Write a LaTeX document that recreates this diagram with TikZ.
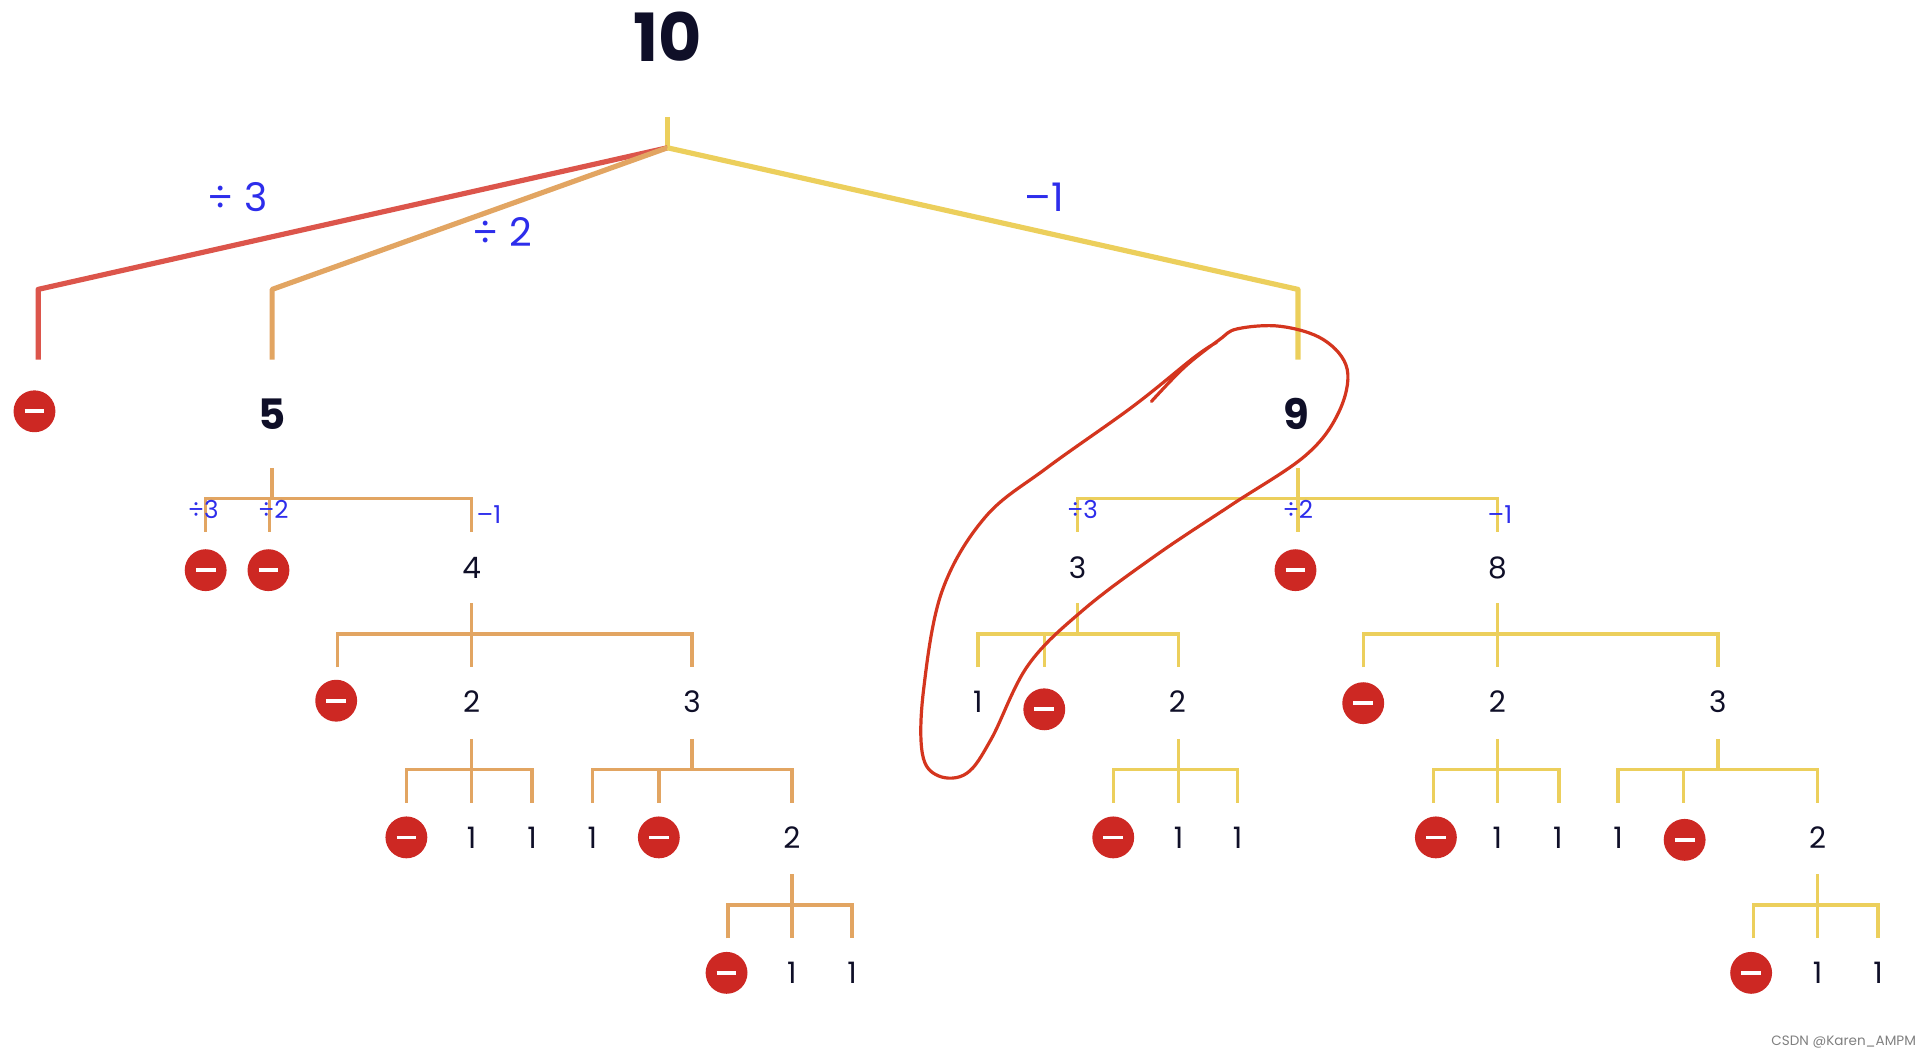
\documentclass[tikz,border=0pt]{standalone}
\usepackage{fontspec}
\setmainfont{Poppins}
\definecolor{cR}{RGB}{220,85,75}
\definecolor{cO}{RGB}{226,165,98}
\definecolor{cY}{RGB}{236,207,92}
\definecolor{cN}{RGB}{205,40,35}
\definecolor{cB}{RGB}{45,45,235}
\definecolor{cT}{RGB}{15,15,40}
\begin{document}
\begin{tikzpicture}[x=1pt,y=-1pt,
  neg/.style={circle,fill=cN,minimum size=34pt,inner sep=0pt,
    path picture={\draw[white,line width=3pt] ([xshift=-8pt]path picture bounding box.center) -- ([xshift=8pt]path picture bounding box.center);}},
  num/.style={font=\fontsize{24}{24}\selectfont,text=cT,inner sep=0pt},
  bnum/.style={font=\bfseries\fontsize{34}{34}\selectfont,text=cT,inner sep=0pt},
  lab/.style={font=\fontsize{32}{32}\selectfont,text=cB,inner sep=0pt},
  slab/.style={font=\fontsize{20}{20}\selectfont,text=cB,inner sep=0pt},
  thick1/.style={line width=4.2pt},
  br/.style={line width=2.8pt}]
\useasboundingbox (0,0) rectangle (1564,858);
% bracket macro: color, stemx, y(top of stem), list of drops
\newcommand{\brk}[5]{%
  \draw[br,#1] (#2,#3) -- (#2,#3+25);
  \draw[br,#1] (#4,#3+52) -- (#4,#3+25) -- (#5,#3+25) -- (#5,#3+52);}
\newcommand{\drop}[4]{\draw[br,#1] (#2,#3+25) -- (#2,#3+52);}
\node[font=\bfseries\fontsize{54}{54}\selectfont,text=cT,inner sep=0pt] (n10) at (542,30) {10};
\draw[thick1,cY] (542,95) -- (542,120);
\draw[thick1,cR,line join=round] (542,120) -- (31,235) -- (31,292);
\draw[thick1,cO,line join=round] (542,120) -- (221,235) -- (221,292);
\draw[thick1,cY,line join=round] (542,120) -- (1054,235) -- (1054,292);
\node[lab] (l1) at (193,160) {÷ 3};
\node[lab] (l2) at (408,188) {÷ 2};
\node[lab] (l3) at (848,160) {–1};
\node[neg] (c0) at (28,334) {};
\node[bnum] (n5) at (221,336) {5};
\node[bnum] (n9) at (1053,336) {9};
% subtree 5
\brk{cO}{221}{380}{167}{383}\drop{cO}{219}{380}{}
\node[slab] at (165,414) {÷3};
\node[slab] at (222,414) {÷2};
\node[slab] at (397,418) {–1};
\node[neg] at (167,463) {}; \node[neg] at (218,463) {};
\node[num] (n4) at (383,461) {4};
\brk{cO}{383}{490}{274}{562}\drop{cO}{383}{490}{}
\node[neg] at (273,569) {}; \node[num] at (383,570) {2}; \node[num] at (562,570) {3};
\brk{cO}{383}{600}{330}{432}\drop{cO}{383}{600}{}
\node[neg] at (330,680) {}; \node[num] at (383,680) {1}; \node[num] at (432,680) {1};
\brk{cO}{562}{600}{481}{643}\drop{cO}{535}{600}{}
\node[num] at (481,680) {1}; \node[neg] at (535,680) {}; \node[num] at (643,680) {2};
\brk{cO}{643}{710}{591}{692}\drop{cO}{643}{710}{}
\node[neg] at (590,790) {}; \node[num] at (643,790) {1}; \node[num] at (692,790) {1};
% subtree 9
\brk{cY}{1054}{380}{875}{1216}\drop{cY}{1054}{380}{}
\node[slab] at (879,414) {÷3};
\node[slab] at (1054,414) {÷2};
\node[slab] at (1218,418) {–1};
\node[num] at (875,461) {3}; \node[neg] at (1052,463) {}; \node[num] at (1216,461) {8};
\brk{cY}{875}{490}{794}{957}\drop{cY}{848}{490}{}
\node[num] at (794,570) {1}; \node[neg] at (848,576) {}; \node[num] at (956,570) {2};
\brk{cY}{957}{600}{904}{1005}\drop{cY}{957}{600}{}
\node[neg] at (904,680) {}; \node[num] at (957,680) {1}; \node[num] at (1005,680) {1};
\brk{cY}{1216}{490}{1107}{1395}\drop{cY}{1216}{490}{}
\node[neg] at (1107,571) {}; \node[num] at (1216,570) {2}; \node[num] at (1395,570) {3};
\brk{cY}{1216}{600}{1164}{1266}\drop{cY}{1216}{600}{}
\node[neg] at (1166,680) {}; \node[num] at (1216,680) {1}; \node[num] at (1265,680) {1};
\brk{cY}{1395}{600}{1314}{1476}\drop{cY}{1367}{600}{}
\node[num] at (1314,680) {1}; \node[neg] at (1368,682) {}; \node[num] at (1476,680) {2};
\brk{cY}{1476}{710}{1424}{1525}\drop{cY}{1476}{710}{}
\node[neg] at (1422,790) {}; \node[num] at (1476,790) {1}; \node[num] at (1525,790) {1};
% freehand loop
\draw[cN!85!orange,line width=2.6pt,line cap=round,line join=round] plot[smooth,tension=0.6] coordinates {
 (935,326) (962,298) (990,276) (1005,267) (1040,265) (1075,276) (1094,300) (1087,335) (1060,370)
 (1000,410) (940,450) (880,495) (835,540) (805,600) (785,628) (762,630) (749,612) (750,560) (765,480) (800,420) (850,380) (920,330) (970,290) (988,278)};
\node[font=\fontsize{11}{11}\selectfont,text=gray,inner sep=0pt,anchor=east] (wm) at (1556,846) {CSDN @Karen\_AMPM};
\end{tikzpicture}
\end{document}
